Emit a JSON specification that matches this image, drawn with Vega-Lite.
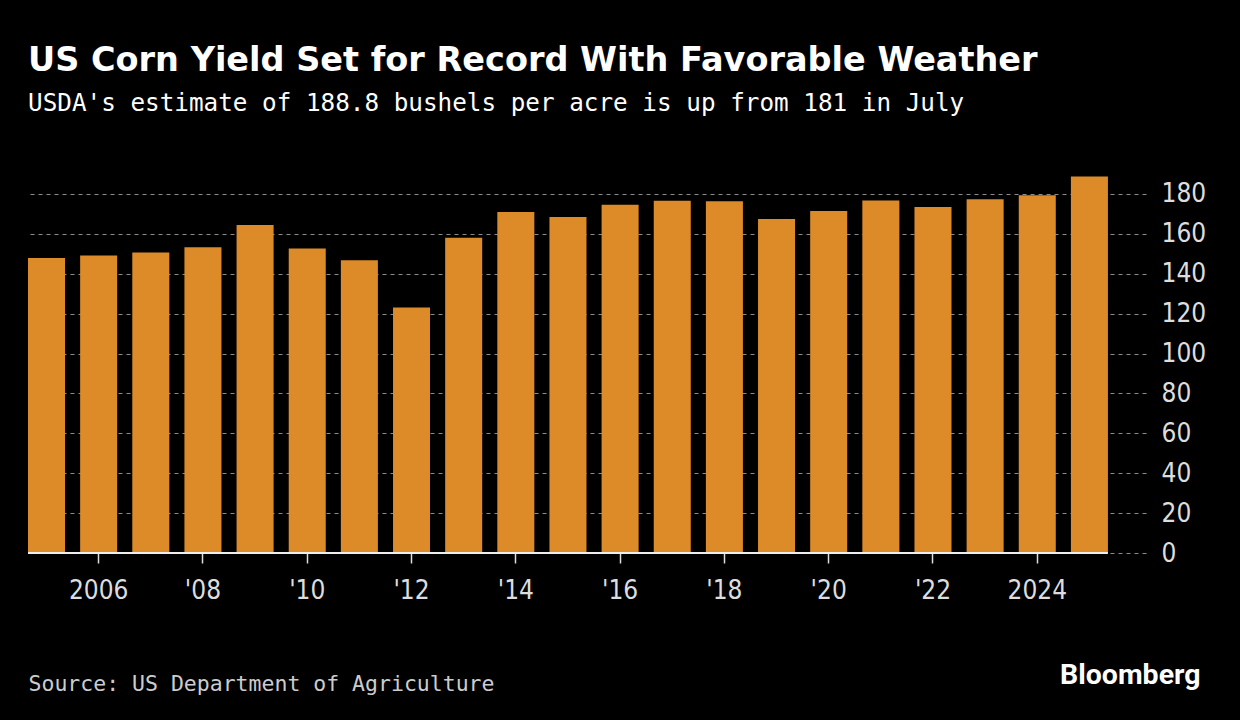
{
  "$schema": "https://vega.github.io/schema/vega-lite/v6.json",
  "width": 1118,
  "height": 379,
  "autosize": {"type": "none"},
  "padding": {"left": 28, "top": 174, "right": 94, "bottom": 167},
  "background": "#000000",
  "title": {
    "text": "US Corn Yield Set for Record With Favorable Weather",
    "subtitle": "USDA's estimate of 188.8 bushels per acre is up from 181 in July",
    "anchor": "start",
    "frame": "group",
    "font": "DejaVu Sans",
    "fontSize": 33.5,
    "fontWeight": "bold",
    "color": "#ffffff",
    "subtitleFont": "DejaVu Sans Mono",
    "subtitleFontSize": 24.3,
    "subtitleColor": "#ffffff",
    "subtitlePadding": 13,
    "offset": 57
  },
  "config": {
    "view": {"stroke": null},
    "axis": {"labelFont": "DejaVu Sans Condensed", "titleFont": "DejaVu Sans Mono"}
  },
  "data": {
    "values": [
      {"year": 2005, "yield": 147.9},
      {"year": 2006, "yield": 149.1},
      {"year": 2007, "yield": 150.7},
      {"year": 2008, "yield": 153.3},
      {"year": 2009, "yield": 164.4},
      {"year": 2010, "yield": 152.6},
      {"year": 2011, "yield": 146.8},
      {"year": 2012, "yield": 123.1},
      {"year": 2013, "yield": 158.1},
      {"year": 2014, "yield": 171.0},
      {"year": 2015, "yield": 168.4},
      {"year": 2016, "yield": 174.6},
      {"year": 2017, "yield": 176.6},
      {"year": 2018, "yield": 176.4},
      {"year": 2019, "yield": 167.5},
      {"year": 2020, "yield": 171.4},
      {"year": 2021, "yield": 176.7},
      {"year": 2022, "yield": 173.4},
      {"year": 2023, "yield": 177.3},
      {"year": 2024, "yield": 179.3},
      {"year": 2025, "yield": 188.8}
    ]
  },
  "layer": [
    {
      "mark": {"type": "bar", "color": "#DD8A28"},
      "encoding": {
        "x": {
          "field": "year",
          "type": "ordinal",
          "scale": {"paddingInner": 0.29, "paddingOuter": 0.365, "align": 0},
          "axis": {
            "values": [2006, 2008, 2010, 2012, 2014, 2016, 2018, 2020, 2022, 2024],
            "labelExpr": "datum.value == 2006 || datum.value == 2024 ? datum.label : \"'\" + substring(datum.label, 2, 4)",
            "labelAngle": 0,
            "labelFontSize": 26,
            "labelColor": "#dddddd",
            "labelPadding": 14,
            "domain": false,
            "ticks": true,
            "tickColor": "#dddddd",
            "tickSize": 10,
            "tickWidth": 1.5,
            "grid": false,
            "title": "Source: US Department of Agriculture",
            "titleAnchor": "start",
            "titleAlign": "left",
            "titleX": 0,
            "titleY": 137,
            "titleBaseline": "alphabetic",
            "titleFontSize": 21.5,
            "titleFontWeight": "normal",
            "titleColor": "#cccccc"
          }
        },
        "y": {
          "field": "yield",
          "type": "quantitative",
          "scale": {"domain": [0, 190], "nice": false},
          "axis": {
            "orient": "right",
            "values": [0, 20, 40, 60, 80, 100, 120, 140, 160, 180],
            "domain": false,
            "ticks": false,
            "grid": true,
            "gridColor": "#8c8c8c",
            "gridDash": [4, 4],
            "gridWidth": 1.2,
            "labelFontSize": 26,
            "labelColor": "#dddddd",
            "labelAlign": "left",
            "labelPadding": 15,
            "title": "Bloomberg",
            "titleAngle": 0,
            "titleAlign": "right",
            "titleBaseline": "alphabetic",
            "titleX": 54,
            "titleY": 509,
            "titleFont": "Roboto",
            "titleFontSize": 28.5,
            "titleFontWeight": "bold",
            "titleColor": "#ffffff"
          }
        }
      }
    },
    {
      "transform": [
        {"aggregate": [{"op": "min", "field": "year", "as": "first"}, {"op": "max", "field": "year", "as": "last"}]}
      ],
      "mark": {"type": "rule", "color": "#eeeeee", "strokeWidth": 2, "xOffset": -18.5, "x2Offset": 18.5},
      "encoding": {
        "x": {"field": "first", "type": "ordinal"},
        "x2": {"field": "last"},
        "y": {"datum": 0, "type": "quantitative"}
      }
    }
  ]
}
